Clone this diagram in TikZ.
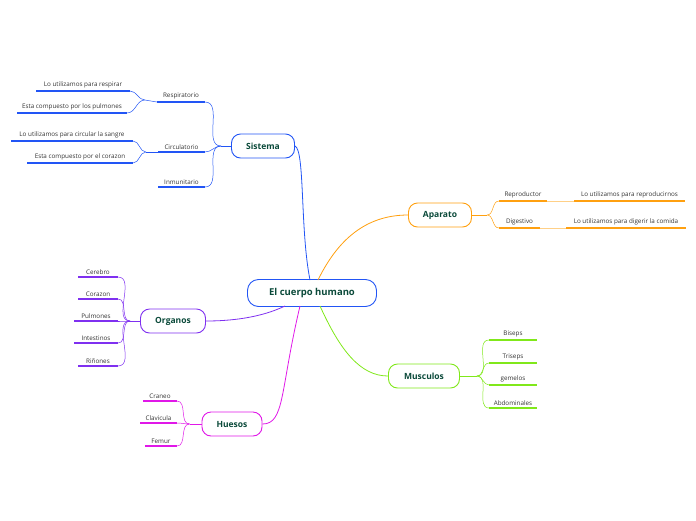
\documentclass[tikz,border=0pt]{standalone}
\usepackage{fontspec}
\setmainfont{Open Sans}
\begin{document}
\begin{tikzpicture}[x=1pt,y=-1pt,
  leafst/.style={inner xsep=0pt,inner ysep=2.5pt,outer sep=0pt,font=\fontsize{6.3}{7}\selectfont,text=black!80},
  mainst/.style={draw,line width=0.9pt,rounded corners=9pt,fill=white,font=\bfseries\fontsize{8.5}{10}\selectfont,text=tgreen,minimum height=24pt,inner sep=0pt},
  conn/.style={line width=0.8pt},
  sub/.style={line width=0.5pt}]
\definecolor{tgreen}{HTML}{0B4A3A}
\definecolor{cblue}{HTML}{2255F5}
\definecolor{corange}{HTML}{FFA010}
\definecolor{cgreen}{HTML}{80E81A}
\definecolor{cpurple}{HTML}{7F30F0}
\definecolor{cmag}{HTML}{E018E8}
\newcommand\leaf[6]{\node[leafst,minimum width={(#3-#2)*1pt},anchor=south] (#1) at ({(#2+#3)/2},#4) {#5};
  \draw[#6,line width=1.6pt] (#1.south west)--(#1.south east);}
\useasboundingbox (0,0) rectangle (696,520);
% main nodes
\node[mainst,draw=cblue,minimum width=129pt,font=\bfseries\fontsize{9.5}{11}\selectfont,minimum height=27pt,rounded corners=11pt] (c) at (312,293) {El cuerpo humano};
\node[mainst,draw=cblue,minimum width=63pt] (sis) at (263,146) {Sistema};
\node[mainst,draw=corange,minimum width=63pt] (apa) at (440,215) {Aparato};
\node[mainst,draw=cgreen,minimum width=71pt] (mus) at (424,376) {Musculos};
\node[mainst,draw=cpurple,minimum width=65pt] (org) at (173,321) {Organos};
\node[mainst,draw=cmag,minimum width=60pt] (hue) at (232,424) {Huesos};
% main connectors
\coordinate (c1) at (310,280); \coordinate (c2) at (318,280);
\coordinate (c3) at (320,306); \coordinate (c4) at (285,306); \coordinate (c5) at (300,306);
\draw[cblue,conn] (sis.east) .. controls (305,150) and (300,230) .. (c1);
\draw[corange,conn] (c2) .. controls (340,235) and (370,215) .. (apa.west);
\draw[cgreen,conn] (c3) .. controls (340,350) and (360,376) .. (mus.west);
\draw[cpurple,conn] (c4) .. controls (260,318) and (230,321) .. (org.east);
\draw[cmag,conn] (c5) .. controls (280,390) and (285,424) .. (hue.east);
% Sistema
\leaf{resp}{157}{205}{102}{Respiratorio}{cblue}
\leaf{circ}{158}{205}{152}{Circulatorio}{cblue}
\leaf{inm}{158}{205}{187}{Inmunitario}{cblue}
\leaf{r1}{36}{130}{91}{Lo utilizamos para respirar}{cblue}
\leaf{r2}{17}{127}{113}{Esta compuesto por los pulmones}{cblue}
\leaf{c1l}{11}{133}{141}{Lo utilizamos para circular la sangre}{cblue}
\leaf{c2l}{27}{133}{163}{Esta compuesto por el corazon}{cblue}
\draw[cblue,sub] (sis.west) -- ++(-10,0) coordinate (sb);
\foreach \n in {resp,circ,inm} \draw[cblue,sub] (sb) to[out=180,in=0] (\n.south east);
\draw[cblue,sub] (resp.south west) -- ++(-12,-2) coordinate (rb);
\draw[cblue,sub] (rb) to[out=180,in=0] (r1.south east) (rb) to[out=180,in=0] (r2.south east);
\draw[cblue,sub] (circ.south west) -- ++(-12,0) coordinate (cb);
\draw[cblue,sub] (cb) to[out=180,in=0] (c1l.south east) (cb) to[out=180,in=0] (c2l.south east);
% Aparato
\leaf{rep}{499}{547}{201}{Reproductor}{corange}
\leaf{dig}{499}{540}{228}{Digestivo}{corange}
\leaf{rep1}{574}{685}{201}{Lo utilizamos para reproducirnos}{corange}
\leaf{dig1}{566}{686}{228}{Lo utilizamos para digerir la comida}{corange}
\draw[corange,sub] (apa.east) -- ++(15,0) coordinate (ab);
\draw[corange,sub] (ab) to[out=0,in=180] (rep.south west) (ab) to[out=0,in=180] (dig.south west);
\draw[corange!50,sub] (rep.south east) -- (rep1.south west);
\draw[corange!50,sub] (dig.south east) -- (dig1.south west);
% Musculos
\leaf{bis}{489}{537}{340}{Biseps}{cgreen}
\leaf{tri}{489}{537}{363}{Triseps}{cgreen}
\leaf{gem}{489}{537}{385}{gemelos}{cgreen}
\leaf{abd}{489}{537}{408}{Abdominales}{cgreen}
\draw[cgreen,sub] (mus.east) -- ++(17,0) coordinate (mb);
\foreach \n in {bis,tri,gem,abd} \draw[cgreen,sub] (mb) to[out=0,in=180] (\n.south west);
% Organos
\leaf{cer}{78}{118}{277}{Cerebro}{cpurple}
\leaf{cor}{78}{118}{299}{Corazon}{cpurple}
\leaf{pul}{74}{118}{321}{Pulmones}{cpurple}
\leaf{int}{74}{118}{343}{Intestinos}{cpurple}
\leaf{rin}{78}{118}{366}{Riñones}{cpurple}
\draw[cpurple,sub] (org.west) -- ++(-10,0) coordinate (ob);
\foreach \n in {cer,cor,pul,int,rin} \draw[cpurple,sub] (ob) to[out=180,in=0] (\n.south east);
% Huesos
\leaf{cra}{143}{177}{401}{Craneo}{cmag}
\leaf{cla}{140}{177}{423}{Clavicula}{cmag}
\leaf{fem}{145}{177}{446}{Femur}{cmag}
\draw[cmag,sub] (hue.west) -- ++(-12,0) coordinate (hb);
\foreach \n in {cra,cla,fem} \draw[cmag,sub] (hb) to[out=180,in=0] (\n.south east);
\end{tikzpicture}
\end{document}
